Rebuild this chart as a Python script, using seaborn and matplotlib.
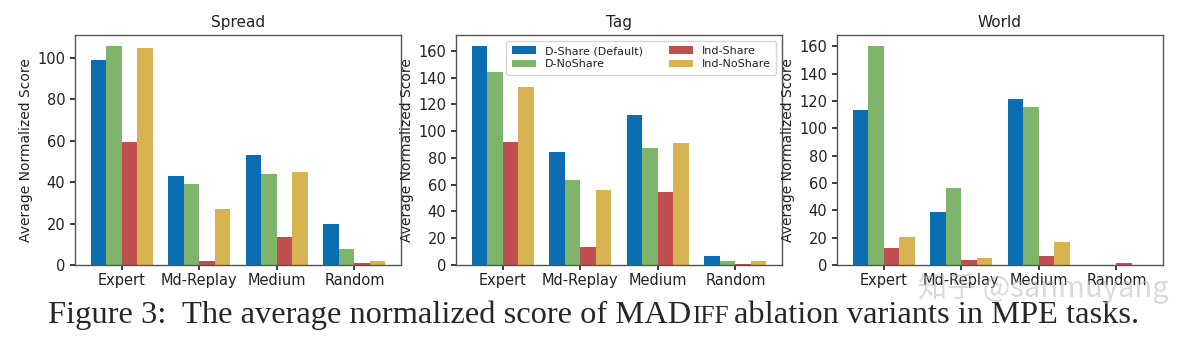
import matplotlib
matplotlib.use("Agg")
import matplotlib.pyplot as plt
from matplotlib.ticker import MultipleLocator
import seaborn as sns
import pandas as pd

tasks = ["Spread", "Tag", "World"]
datasets = ["Expert", "Md-Replay", "Medium", "Random"]
variants = ["D-Share (Default)", "D-NoShare", "Ind-Share", "Ind-NoShare"]

spread_d_share = [98.9, 42.9, 53.2, 19.6]
spread_d_noshare = [105.6, 39.2, 43.9, 7.6]
spread_ind_share = [59.5, 1.9, 13.3, 0.8]
spread_ind_noshare = [104.5, 26.8, 44.9, 1.9]

tag_d_share = [163.7, 84.2, 112.1, 6.7]
tag_d_noshare = [144.5, 63.8, 87.5, 2.7]
tag_ind_share = [92.2, 13.3, 54.3, 0.7]
tag_ind_noshare = [133.1, 55.7, 91.0, 2.7]

world_d_share = [113.1, 39.1, 121.6, 0.3]
world_d_noshare = [160.2, 56.2, 115.3, 0.3]
world_ind_share = [12.2, 3.7, 6.6, 1.2]
world_ind_noshare = [20.3, 5.4, 16.9, 0.2]

values = {
    "Spread": [spread_d_share, spread_d_noshare, spread_ind_share, spread_ind_noshare],
    "Tag": [tag_d_share, tag_d_noshare, tag_ind_share, tag_ind_noshare],
    "World": [world_d_share, world_d_noshare, world_ind_share, world_ind_noshare],
}

colors = ["#0A6EB0", "#7EB56A", "#C0504F", "#D8B352"]

rows = []
for task in tasks:
    for v, series in zip(variants, values[task]):
        for d, val in zip(datasets, series):
            rows.append({"task": task, "dataset": d, "variant": v, "score": val})
df = pd.DataFrame(rows)

sns.set_theme(style="ticks")
plt.rcParams["font.family"] = ["DejaVu Sans"]

fig = plt.figure(figsize=(11.94, 3.38), dpi=100)
lefts = [75 / 1194, 456 / 1194, 837 / 1194]
axes = []
for l in lefts:
    ax = fig.add_axes([l, 73 / 338, 326 / 1194, 230 / 338])
    axes.append(ax)

for ax, task in zip(axes, tasks):
    sub = df[df["task"] == task]
    sns.barplot(data=sub, x="dataset", y="score", hue="variant", order=datasets,
                hue_order=variants, palette=colors, ax=ax, width=0.8,
                saturation=1, errorbar=None, legend=(task == "Tag"),
                edgecolor="none", linewidth=0)
    ax.set_xlim(-0.6, 3.6)
    ax.yaxis.set_major_locator(MultipleLocator(20))
    ax.set_title(task, fontsize=11, color="#222222", pad=6)
    ax.set_xlabel("")
    ax.set_ylabel("Average Normalized Score", fontsize=10, color="#222222", labelpad=3)
    ax.tick_params(labelsize=10.5, colors="#222222", length=3.5)
    ax.tick_params(axis="x", pad=2)
    for s in ax.spines.values():
        s.set_visible(True)
        s.set_color("#555555")
        s.set_linewidth(1.0)
    if task == "Tag":
        leg = ax.legend(loc="upper right", ncol=2, fontsize=8, frameon=True,
                        handlelength=2.2, columnspacing=2.3, borderpad=0.5,
                        labelspacing=0.3)
        for t in leg.get_texts():
            t.set_color("#222222")

cap_size = 23.4
t1 = fig.text(48 / 1194, 1 - 323 / 338, "Figure 3:  The average normalized score of MAD",
              family="Liberation Serif", fontsize=cap_size, ha="left", va="baseline")
t2 = fig.text(0, 0, "IFF", family="Liberation Serif", fontsize=cap_size * 0.78,
              ha="left", va="baseline")
fig.canvas.draw()
r = fig.canvas.get_renderer()
bb = t1.get_window_extent(r)
t2.set_position(((bb.x1 + 1) / fig.bbox.width, t1.get_position()[1]))
bb2 = t2.get_window_extent(r)
t3 = fig.text((bb2.x1 + 5) / fig.bbox.width, t1.get_position()[1],
              "ablation variants in MPE tasks.", family="Liberation Serif",
              fontsize=cap_size, ha="left", va="baseline")

fig.text(1043 / 1194, 1 - 288 / 338, "知乎 @sanmuyang", family=["Noto Sans CJK SC", "DejaVu Sans"],
         fontsize=21, color="#bdbdbd", alpha=0.55, ha="center", va="center")

fig.savefig("out.png", dpi=100)
